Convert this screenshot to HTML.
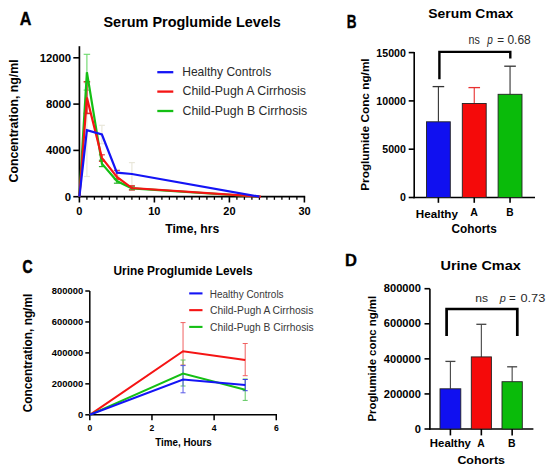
<!DOCTYPE html>
<html><head><meta charset="utf-8"><style>
html,body{margin:0;padding:0;background:#fff;}
body{width:550px;height:471px;overflow:hidden;}
svg{display:block;font-family:"Liberation Sans", sans-serif;}
</style></head><body>
<svg width="550" height="471" viewBox="0 0 550 471">
<rect width="550" height="471" fill="#fff"/>
<text transform="translate(19.87,25.10) scale(0.8985,1)" font-size="18.00" font-weight="bold" font-style="normal" fill="#000" stroke="#000" stroke-width="0.35">A</text>
<text transform="translate(103.48,26.60) scale(1.0324,1)" font-size="14.00" font-weight="bold" font-style="normal" fill="#000">Serum Proglumide Levels</text>
<line x1="79.40" y1="46.20" x2="79.40" y2="197.50" stroke="#000" stroke-width="1.7"/>
<line x1="78.60" y1="196.70" x2="305.20" y2="196.70" stroke="#000" stroke-width="1.7"/>
<line x1="73.30" y1="196.70" x2="79.40" y2="196.70" stroke="#000" stroke-width="1.6"/>
<text transform="translate(64.86,200.60) scale(1.0300,1)" font-size="11.00" font-weight="bold" font-style="normal" fill="#000">0</text>
<line x1="73.30" y1="150.40" x2="79.40" y2="150.40" stroke="#000" stroke-width="1.6"/>
<text transform="translate(45.96,154.30) scale(1.0300,1)" font-size="11.00" font-weight="bold" font-style="normal" fill="#000">4000</text>
<line x1="73.30" y1="104.10" x2="79.40" y2="104.10" stroke="#000" stroke-width="1.6"/>
<text transform="translate(45.96,108.00) scale(1.0300,1)" font-size="11.00" font-weight="bold" font-style="normal" fill="#000">8000</text>
<line x1="73.30" y1="57.80" x2="79.40" y2="57.80" stroke="#000" stroke-width="1.6"/>
<text transform="translate(39.66,61.70) scale(1.0300,1)" font-size="11.00" font-weight="bold" font-style="normal" fill="#000">12000</text>
<line x1="79.40" y1="196.70" x2="79.40" y2="202.50" stroke="#000" stroke-width="1.6"/>
<line x1="86.90" y1="196.70" x2="86.90" y2="199.80" stroke="#000" stroke-width="1.3"/>
<line x1="94.40" y1="196.70" x2="94.40" y2="199.80" stroke="#000" stroke-width="1.3"/>
<line x1="101.90" y1="196.70" x2="101.90" y2="199.80" stroke="#000" stroke-width="1.3"/>
<line x1="109.40" y1="196.70" x2="109.40" y2="199.80" stroke="#000" stroke-width="1.3"/>
<line x1="116.90" y1="196.70" x2="116.90" y2="199.80" stroke="#000" stroke-width="1.3"/>
<line x1="124.40" y1="196.70" x2="124.40" y2="199.80" stroke="#000" stroke-width="1.3"/>
<line x1="131.90" y1="196.70" x2="131.90" y2="199.80" stroke="#000" stroke-width="1.3"/>
<line x1="139.40" y1="196.70" x2="139.40" y2="199.80" stroke="#000" stroke-width="1.3"/>
<line x1="146.90" y1="196.70" x2="146.90" y2="199.80" stroke="#000" stroke-width="1.3"/>
<line x1="154.40" y1="196.70" x2="154.40" y2="202.50" stroke="#000" stroke-width="1.6"/>
<line x1="161.90" y1="196.70" x2="161.90" y2="199.80" stroke="#000" stroke-width="1.3"/>
<line x1="169.40" y1="196.70" x2="169.40" y2="199.80" stroke="#000" stroke-width="1.3"/>
<line x1="176.90" y1="196.70" x2="176.90" y2="199.80" stroke="#000" stroke-width="1.3"/>
<line x1="184.40" y1="196.70" x2="184.40" y2="199.80" stroke="#000" stroke-width="1.3"/>
<line x1="191.90" y1="196.70" x2="191.90" y2="199.80" stroke="#000" stroke-width="1.3"/>
<line x1="199.40" y1="196.70" x2="199.40" y2="199.80" stroke="#000" stroke-width="1.3"/>
<line x1="206.90" y1="196.70" x2="206.90" y2="199.80" stroke="#000" stroke-width="1.3"/>
<line x1="214.40" y1="196.70" x2="214.40" y2="199.80" stroke="#000" stroke-width="1.3"/>
<line x1="221.90" y1="196.70" x2="221.90" y2="199.80" stroke="#000" stroke-width="1.3"/>
<line x1="229.40" y1="196.70" x2="229.40" y2="202.50" stroke="#000" stroke-width="1.6"/>
<line x1="236.90" y1="196.70" x2="236.90" y2="199.80" stroke="#000" stroke-width="1.3"/>
<line x1="244.40" y1="196.70" x2="244.40" y2="199.80" stroke="#000" stroke-width="1.3"/>
<line x1="251.90" y1="196.70" x2="251.90" y2="199.80" stroke="#000" stroke-width="1.3"/>
<line x1="259.40" y1="196.70" x2="259.40" y2="199.80" stroke="#000" stroke-width="1.3"/>
<line x1="266.90" y1="196.70" x2="266.90" y2="199.80" stroke="#000" stroke-width="1.3"/>
<line x1="274.40" y1="196.70" x2="274.40" y2="199.80" stroke="#000" stroke-width="1.3"/>
<line x1="281.90" y1="196.70" x2="281.90" y2="199.80" stroke="#000" stroke-width="1.3"/>
<line x1="289.40" y1="196.70" x2="289.40" y2="199.80" stroke="#000" stroke-width="1.3"/>
<line x1="296.90" y1="196.70" x2="296.90" y2="199.80" stroke="#000" stroke-width="1.3"/>
<line x1="304.40" y1="196.70" x2="304.40" y2="202.50" stroke="#000" stroke-width="1.6"/>
<text transform="translate(76.35,215.30) scale(1.0000,1)" font-size="11.00" font-weight="bold" font-style="normal" fill="#000">0</text>
<text transform="translate(148.16,215.30) scale(1.0000,1)" font-size="11.00" font-weight="bold" font-style="normal" fill="#000">10</text>
<text transform="translate(223.32,215.30) scale(1.0000,1)" font-size="11.00" font-weight="bold" font-style="normal" fill="#000">20</text>
<text transform="translate(298.38,215.30) scale(1.0000,1)" font-size="11.00" font-weight="bold" font-style="normal" fill="#000">30</text>
<text transform="translate(165.26,232.50) scale(1.0000,1)" font-size="12.20" font-weight="bold" font-style="normal" fill="#000">Time, hrs</text>
<text transform="translate(17.90,182.51) rotate(-90) scale(1.0023,1)" font-size="12.30" font-weight="bold" font-style="normal" fill="#000">Concentration, ng/ml</text>
<line x1="86.90" y1="83.73" x2="86.90" y2="176.50" stroke="#e9e7da" stroke-width="1.2"/>
<line x1="83.90" y1="83.73" x2="89.90" y2="83.73" stroke="#e9e7da" stroke-width="1.2"/>
<line x1="83.90" y1="176.50" x2="89.90" y2="176.50" stroke="#e9e7da" stroke-width="1.2"/>
<line x1="101.90" y1="125.31" x2="101.90" y2="143.71" stroke="#e9e7da" stroke-width="1.2"/>
<line x1="98.90" y1="125.31" x2="104.90" y2="125.31" stroke="#e9e7da" stroke-width="1.2"/>
<line x1="98.90" y1="143.71" x2="104.90" y2="143.71" stroke="#e9e7da" stroke-width="1.2"/>
<line x1="116.90" y1="169.50" x2="116.90" y2="175.86" stroke="#e9e7da" stroke-width="1.2"/>
<line x1="113.90" y1="169.50" x2="119.90" y2="169.50" stroke="#e9e7da" stroke-width="1.2"/>
<line x1="113.90" y1="175.86" x2="119.90" y2="175.86" stroke="#e9e7da" stroke-width="1.2"/>
<line x1="131.90" y1="162.60" x2="131.90" y2="185.47" stroke="#e9e7da" stroke-width="1.2"/>
<line x1="128.90" y1="162.60" x2="134.90" y2="162.60" stroke="#e9e7da" stroke-width="1.2"/>
<line x1="128.90" y1="185.47" x2="134.90" y2="185.47" stroke="#e9e7da" stroke-width="1.2"/>
<line x1="86.90" y1="54.30" x2="86.90" y2="90.09" stroke="#6ad86a" stroke-width="1.1"/>
<line x1="83.65" y1="54.30" x2="90.15" y2="54.30" stroke="#6ad86a" stroke-width="1.1"/>
<line x1="83.65" y1="90.09" x2="90.15" y2="90.09" stroke="#6ad86a" stroke-width="1.1"/>
<line x1="101.90" y1="160.24" x2="101.90" y2="166.60" stroke="#30b030" stroke-width="1.2"/>
<line x1="98.90" y1="160.24" x2="104.90" y2="160.24" stroke="#30b030" stroke-width="1.2"/>
<line x1="98.90" y1="166.60" x2="104.90" y2="166.60" stroke="#30b030" stroke-width="1.2"/>
<line x1="116.90" y1="178.76" x2="116.90" y2="183.20" stroke="#30b030" stroke-width="1.2"/>
<line x1="113.90" y1="178.76" x2="119.90" y2="178.76" stroke="#30b030" stroke-width="1.2"/>
<line x1="113.90" y1="183.20" x2="119.90" y2="183.20" stroke="#30b030" stroke-width="1.2"/>
<line x1="131.90" y1="186.28" x2="131.90" y2="189.75" stroke="#30b030" stroke-width="1.2"/>
<line x1="128.90" y1="186.28" x2="134.90" y2="186.28" stroke="#30b030" stroke-width="1.2"/>
<line x1="128.90" y1="189.75" x2="134.90" y2="189.75" stroke="#30b030" stroke-width="1.2"/>
<line x1="86.90" y1="81.79" x2="86.90" y2="113.42" stroke="#d83030" stroke-width="1.6"/>
<line x1="83.65" y1="81.79" x2="90.15" y2="81.79" stroke="#d83030" stroke-width="1.6"/>
<line x1="83.65" y1="113.42" x2="90.15" y2="113.42" stroke="#d83030" stroke-width="1.6"/>
<line x1="101.90" y1="154.80" x2="101.90" y2="161.40" stroke="#e04040" stroke-width="1.2"/>
<line x1="98.90" y1="154.80" x2="104.90" y2="154.80" stroke="#e04040" stroke-width="1.2"/>
<line x1="98.90" y1="161.40" x2="104.90" y2="161.40" stroke="#e04040" stroke-width="1.2"/>
<line x1="116.90" y1="170.51" x2="116.90" y2="179.50" stroke="#e04040" stroke-width="1.2"/>
<line x1="113.90" y1="170.51" x2="119.90" y2="170.51" stroke="#e04040" stroke-width="1.2"/>
<line x1="113.90" y1="179.50" x2="119.90" y2="179.50" stroke="#e04040" stroke-width="1.2"/>
<line x1="131.90" y1="185.70" x2="131.90" y2="189.99" stroke="#e04040" stroke-width="1.2"/>
<line x1="128.90" y1="185.70" x2="134.90" y2="185.70" stroke="#e04040" stroke-width="1.2"/>
<line x1="128.90" y1="189.99" x2="134.90" y2="189.99" stroke="#e04040" stroke-width="1.2"/>
<polyline points="79.40,196.70 86.90,72.20 101.90,163.60 116.90,181.00 131.90,188.37 259.40,196.70" fill="none" stroke="#14bf14" stroke-width="2.2" stroke-linejoin="miter"/>
<polyline points="79.40,196.70 86.90,97.61 101.90,157.81 116.90,176.91 131.90,188.02 260.90,196.70" fill="none" stroke="#f51414" stroke-width="2.2" stroke-linejoin="miter"/>
<polyline points="79.40,196.70 86.90,130.10 101.90,134.51 116.90,172.71 131.90,174.01 259.40,196.70" fill="none" stroke="#1414f5" stroke-width="2.2" stroke-linejoin="miter"/>
<line x1="157.30" y1="72.20" x2="173.30" y2="72.20" stroke="#1414f5" stroke-width="2.3"/>
<text transform="translate(182.21,76.00) scale(0.9964,1)" font-size="12.10" font-weight="normal" font-style="normal" fill="#2a2a2a">Healthy Controls</text>
<line x1="157.30" y1="91.60" x2="173.30" y2="91.60" stroke="#f51414" stroke-width="2.3"/>
<text transform="translate(182.57,95.10) scale(1.0203,1)" font-size="12.10" font-weight="normal" font-style="normal" fill="#2a2a2a">Child-Pugh A Cirrhosis</text>
<line x1="157.30" y1="111.00" x2="173.30" y2="111.00" stroke="#14bf14" stroke-width="2.3"/>
<text transform="translate(182.57,115.00) scale(1.0195,1)" font-size="12.10" font-weight="normal" font-style="normal" fill="#2a2a2a">Child-Pugh B Cirrhosis</text>
<text transform="translate(346.77,28.20) scale(0.7600,1)" font-size="17.80" font-weight="bold" font-style="normal" fill="#000" stroke="#000" stroke-width="0.35">B</text>
<text transform="translate(428.30,17.60) scale(1.0287,1)" font-size="13.50" font-weight="bold" font-style="normal" fill="#000">Serum Cmax</text>
<line x1="414.20" y1="52.00" x2="414.20" y2="198.30" stroke="#000" stroke-width="1.6"/>
<line x1="413.40" y1="197.50" x2="535.00" y2="197.50" stroke="#000" stroke-width="1.6"/>
<line x1="408.70" y1="197.50" x2="414.20" y2="197.50" stroke="#000" stroke-width="1.6"/>
<text transform="translate(399.94,201.40) scale(1.0000,1)" font-size="10.60" font-weight="bold" font-style="normal" fill="#000">0</text>
<line x1="408.70" y1="149.20" x2="414.20" y2="149.20" stroke="#000" stroke-width="1.6"/>
<text transform="translate(382.25,153.10) scale(1.0000,1)" font-size="10.60" font-weight="bold" font-style="normal" fill="#000">5000</text>
<line x1="408.70" y1="100.90" x2="414.20" y2="100.90" stroke="#000" stroke-width="1.6"/>
<text transform="translate(376.36,104.80) scale(1.0000,1)" font-size="10.60" font-weight="bold" font-style="normal" fill="#000">10000</text>
<line x1="408.70" y1="52.60" x2="414.20" y2="52.60" stroke="#000" stroke-width="1.6"/>
<text transform="translate(376.36,56.50) scale(1.0000,1)" font-size="10.60" font-weight="bold" font-style="normal" fill="#000">15000</text>
<line x1="438.40" y1="86.60" x2="438.40" y2="121.80" stroke="#333" stroke-width="1.1"/>
<line x1="432.60" y1="86.60" x2="444.20" y2="86.60" stroke="#333" stroke-width="1.3"/>
<rect x="426.50" y="121.80" width="23.80" height="75.70" fill="#1010f0" stroke="#222" stroke-width="0.9"/>
<line x1="438.40" y1="197.50" x2="438.40" y2="202.80" stroke="#000" stroke-width="1.6"/>
<line x1="474.25" y1="87.60" x2="474.25" y2="103.50" stroke="#e83030" stroke-width="1.1"/>
<line x1="468.45" y1="87.60" x2="480.05" y2="87.60" stroke="#e83030" stroke-width="1.3"/>
<rect x="462.30" y="103.50" width="23.90" height="94.00" fill="#f50a0a" stroke="#222" stroke-width="0.9"/>
<line x1="474.25" y1="197.50" x2="474.25" y2="202.80" stroke="#000" stroke-width="1.6"/>
<line x1="510.05" y1="66.20" x2="510.05" y2="94.30" stroke="#333" stroke-width="1.1"/>
<line x1="504.25" y1="66.20" x2="515.85" y2="66.20" stroke="#333" stroke-width="1.3"/>
<rect x="498.10" y="94.30" width="23.90" height="103.20" fill="#0abb0a" stroke="#222" stroke-width="0.9"/>
<line x1="510.05" y1="197.50" x2="510.05" y2="202.80" stroke="#000" stroke-width="1.6"/>
<polyline points="439.40,79.30 439.40,51.90 510.30,51.90 510.30,58.50" fill="none" stroke="#000" stroke-width="2.4" stroke-linejoin="miter"/>
<text transform="translate(468.59,43.90) scale(0.8913,1)" font-size="12.00" font-weight="normal" font-style="normal" fill="#2a2a2a">ns</text>
<text transform="translate(487.15,43.90) scale(0.8351,1)" font-size="12.00" font-weight="normal" font-style="italic" fill="#2a2a2a">p</text>
<text transform="translate(497.23,43.90) scale(0.9777,1)" font-size="12.00" font-weight="normal" font-style="normal" fill="#2a2a2a">=</text>
<text transform="translate(507.43,43.90) scale(0.9971,1)" font-size="12.00" font-weight="normal" font-style="normal" fill="#2a2a2a">0.68</text>
<text transform="translate(415.82,217.60) scale(1.0324,1)" font-size="11.30" font-weight="bold" font-style="normal" fill="#000">Healthy</text>
<text transform="translate(470.24,215.70) scale(1.0079,1)" font-size="10.50" font-weight="bold" font-style="normal" fill="#000">A</text>
<text transform="translate(506.22,215.70) scale(0.9682,1)" font-size="10.50" font-weight="bold" font-style="normal" fill="#000">B</text>
<text transform="translate(451.52,233.30) scale(0.9842,1)" font-size="12.00" font-weight="bold" font-style="normal" fill="#000">Cohorts</text>
<text transform="translate(369.10,190.79) rotate(-90) scale(1.0007,1)" font-size="11.80" font-weight="bold" font-style="normal" fill="#000">Proglumide Conc ng/ml</text>
<text transform="translate(22.53,273.40) scale(0.7732,1)" font-size="18.00" font-weight="bold" font-style="normal" fill="#000" stroke="#000" stroke-width="0.6">C</text>
<text transform="translate(113.49,274.80) scale(0.9976,1)" font-size="11.90" font-weight="bold" font-style="normal" fill="#000">Urine Proglumide Levels</text>
<line x1="89.80" y1="291.10" x2="89.80" y2="415.50" stroke="#000" stroke-width="1.5"/>
<line x1="89.10" y1="414.80" x2="277.00" y2="414.80" stroke="#000" stroke-width="1.5"/>
<line x1="85.30" y1="414.80" x2="89.80" y2="414.80" stroke="#000" stroke-width="1.5"/>
<text transform="translate(77.96,418.20) scale(1.0000,1)" font-size="9.40" font-weight="bold" font-style="normal" fill="#000">0</text>
<line x1="85.30" y1="383.85" x2="89.80" y2="383.85" stroke="#000" stroke-width="1.5"/>
<text transform="translate(51.82,387.25) scale(1.0000,1)" font-size="9.40" font-weight="bold" font-style="normal" fill="#000">200000</text>
<line x1="85.30" y1="352.90" x2="89.80" y2="352.90" stroke="#000" stroke-width="1.5"/>
<text transform="translate(51.82,356.30) scale(1.0000,1)" font-size="9.40" font-weight="bold" font-style="normal" fill="#000">400000</text>
<line x1="85.30" y1="321.95" x2="89.80" y2="321.95" stroke="#000" stroke-width="1.5"/>
<text transform="translate(51.82,325.35) scale(1.0000,1)" font-size="9.40" font-weight="bold" font-style="normal" fill="#000">600000</text>
<line x1="85.30" y1="291.00" x2="89.80" y2="291.00" stroke="#000" stroke-width="1.5"/>
<text transform="translate(51.82,294.40) scale(1.0000,1)" font-size="9.40" font-weight="bold" font-style="normal" fill="#000">800000</text>
<line x1="89.80" y1="414.80" x2="89.80" y2="420.30" stroke="#000" stroke-width="1.5"/>
<text transform="translate(87.41,430.80) scale(1.0000,1)" font-size="8.60" font-weight="bold" font-style="normal" fill="#000">0</text>
<line x1="151.96" y1="414.80" x2="151.96" y2="420.30" stroke="#000" stroke-width="1.5"/>
<text transform="translate(149.59,430.80) scale(1.0000,1)" font-size="8.60" font-weight="bold" font-style="normal" fill="#000">2</text>
<line x1="214.12" y1="414.80" x2="214.12" y2="420.30" stroke="#000" stroke-width="1.5"/>
<text transform="translate(211.69,430.80) scale(1.0000,1)" font-size="8.60" font-weight="bold" font-style="normal" fill="#000">4</text>
<line x1="276.28" y1="414.80" x2="276.28" y2="420.30" stroke="#000" stroke-width="1.5"/>
<text transform="translate(273.89,430.80) scale(1.0000,1)" font-size="8.60" font-weight="bold" font-style="normal" fill="#000">6</text>
<text transform="translate(155.29,445.60) scale(0.9639,1)" font-size="10.20" font-weight="bold" font-style="normal" fill="#000">Time, Hours</text>
<text transform="translate(32.00,412.29) rotate(-90) scale(0.9886,1)" font-size="12.00" font-weight="bold" font-style="normal" fill="#000">Concentration, ng/ml</text>
<line x1="183.04" y1="322.60" x2="183.04" y2="365.00" stroke="#f06060" stroke-width="1.0"/>
<line x1="180.54" y1="322.60" x2="185.54" y2="322.60" stroke="#f06060" stroke-width="1.0"/>
<line x1="180.54" y1="365.00" x2="185.54" y2="365.00" stroke="#f06060" stroke-width="1.0"/>
<line x1="245.20" y1="343.50" x2="245.20" y2="375.70" stroke="#f06060" stroke-width="1.0"/>
<line x1="242.70" y1="343.50" x2="247.70" y2="343.50" stroke="#f06060" stroke-width="1.0"/>
<line x1="242.70" y1="375.70" x2="247.70" y2="375.70" stroke="#f06060" stroke-width="1.0"/>
<line x1="183.04" y1="360.00" x2="183.04" y2="386.00" stroke="#60c860" stroke-width="1.0"/>
<line x1="180.54" y1="360.00" x2="185.54" y2="360.00" stroke="#60c860" stroke-width="1.0"/>
<line x1="180.54" y1="386.00" x2="185.54" y2="386.00" stroke="#60c860" stroke-width="1.0"/>
<line x1="245.20" y1="379.00" x2="245.20" y2="400.40" stroke="#60c860" stroke-width="1.0"/>
<line x1="242.70" y1="379.00" x2="247.70" y2="379.00" stroke="#60c860" stroke-width="1.0"/>
<line x1="242.70" y1="400.40" x2="247.70" y2="400.40" stroke="#60c860" stroke-width="1.0"/>
<line x1="183.04" y1="365.60" x2="183.04" y2="392.80" stroke="#5a5ae8" stroke-width="1.0"/>
<line x1="180.54" y1="365.60" x2="185.54" y2="365.60" stroke="#5a5ae8" stroke-width="1.0"/>
<line x1="180.54" y1="392.80" x2="185.54" y2="392.80" stroke="#5a5ae8" stroke-width="1.0"/>
<line x1="245.20" y1="379.50" x2="245.20" y2="390.70" stroke="#3a3ae8" stroke-width="1.0"/>
<line x1="242.70" y1="379.50" x2="247.70" y2="379.50" stroke="#3a3ae8" stroke-width="1.0"/>
<line x1="242.70" y1="390.70" x2="247.70" y2="390.70" stroke="#3a3ae8" stroke-width="1.0"/>
<polyline points="89.80,414.80 183.04,351.20 245.20,360.00" fill="none" stroke="#f51414" stroke-width="2.0" stroke-linejoin="miter"/>
<polyline points="89.80,414.80 183.04,373.60 245.20,389.70" fill="none" stroke="#14bf14" stroke-width="2.0" stroke-linejoin="miter"/>
<polyline points="89.80,414.80 183.04,379.50 245.20,385.10" fill="none" stroke="#1414f5" stroke-width="2.0" stroke-linejoin="miter"/>
<line x1="189.20" y1="293.40" x2="202.50" y2="293.40" stroke="#1414f5" stroke-width="2.1"/>
<text transform="translate(209.78,297.60) scale(0.9086,1)" font-size="11.00" font-weight="normal" font-style="normal" fill="#383838">Healthy Controls</text>
<line x1="189.20" y1="310.15" x2="202.50" y2="310.15" stroke="#f51414" stroke-width="2.1"/>
<text transform="translate(210.08,314.00) scale(0.9392,1)" font-size="11.00" font-weight="normal" font-style="normal" fill="#383838">Child-Pugh A Cirrhosis</text>
<line x1="189.20" y1="326.90" x2="202.50" y2="326.90" stroke="#14bf14" stroke-width="2.1"/>
<text transform="translate(210.08,330.60) scale(0.9320,1)" font-size="11.00" font-weight="normal" font-style="normal" fill="#383838">Child-Pugh B Cirrhosis</text>
<text transform="translate(345.07,266.40) scale(0.9512,1)" font-size="17.40" font-weight="bold" font-style="normal" fill="#000" stroke="#000" stroke-width="0.35">D</text>
<text transform="translate(440.53,269.80) scale(1.1373,1)" font-size="12.70" font-weight="bold" font-style="normal" fill="#000">Urine Cmax</text>
<line x1="429.90" y1="288.70" x2="429.90" y2="429.80" stroke="#000" stroke-width="1.6"/>
<line x1="429.10" y1="429.00" x2="533.40" y2="429.00" stroke="#000" stroke-width="1.6"/>
<line x1="424.50" y1="429.00" x2="429.90" y2="429.00" stroke="#000" stroke-width="1.6"/>
<text transform="translate(414.77,432.70) scale(1.0800,1)" font-size="10.30" font-weight="bold" font-style="normal" fill="#000">0</text>
<line x1="424.50" y1="393.93" x2="429.90" y2="393.93" stroke="#000" stroke-width="1.6"/>
<text transform="translate(383.84,397.62) scale(1.0800,1)" font-size="10.30" font-weight="bold" font-style="normal" fill="#000">200000</text>
<line x1="424.50" y1="358.85" x2="429.90" y2="358.85" stroke="#000" stroke-width="1.6"/>
<text transform="translate(383.84,362.55) scale(1.0800,1)" font-size="10.30" font-weight="bold" font-style="normal" fill="#000">400000</text>
<line x1="424.50" y1="323.77" x2="429.90" y2="323.77" stroke="#000" stroke-width="1.6"/>
<text transform="translate(383.84,327.47) scale(1.0800,1)" font-size="10.30" font-weight="bold" font-style="normal" fill="#000">600000</text>
<line x1="424.50" y1="288.70" x2="429.90" y2="288.70" stroke="#000" stroke-width="1.6"/>
<text transform="translate(383.84,292.40) scale(1.0800,1)" font-size="10.30" font-weight="bold" font-style="normal" fill="#000">800000</text>
<line x1="450.40" y1="361.40" x2="450.40" y2="388.80" stroke="#444" stroke-width="1.1"/>
<line x1="445.40" y1="361.40" x2="455.40" y2="361.40" stroke="#444" stroke-width="1.3"/>
<rect x="440.00" y="388.80" width="20.80" height="40.20" fill="#1010f0" stroke="#222" stroke-width="0.9"/>
<line x1="450.40" y1="429.00" x2="450.40" y2="435.40" stroke="#000" stroke-width="1.6"/>
<line x1="481.35" y1="324.30" x2="481.35" y2="356.90" stroke="#444" stroke-width="1.1"/>
<line x1="476.35" y1="324.30" x2="486.35" y2="324.30" stroke="#444" stroke-width="1.3"/>
<rect x="471.30" y="356.90" width="20.10" height="72.10" fill="#f50a0a" stroke="#222" stroke-width="0.9"/>
<line x1="481.35" y1="429.00" x2="481.35" y2="435.40" stroke="#000" stroke-width="1.6"/>
<line x1="512.15" y1="366.80" x2="512.15" y2="381.70" stroke="#444" stroke-width="1.1"/>
<line x1="507.15" y1="366.80" x2="517.15" y2="366.80" stroke="#444" stroke-width="1.3"/>
<rect x="502.00" y="381.70" width="20.30" height="47.30" fill="#0abb0a" stroke="#222" stroke-width="0.9"/>
<line x1="512.15" y1="429.00" x2="512.15" y2="435.40" stroke="#000" stroke-width="1.6"/>
<polyline points="446.60,336.10 446.60,309.00 517.30,309.00 517.30,336.10" fill="none" stroke="#000" stroke-width="2.7" stroke-linejoin="miter"/>
<text transform="translate(475.29,301.90) scale(1.0309,1)" font-size="11.80" font-weight="normal" font-style="normal" fill="#2a2a2a">ns</text>
<text transform="translate(499.77,301.90) scale(0.9265,1)" font-size="11.80" font-weight="normal" font-style="italic" fill="#2a2a2a">p</text>
<text transform="translate(508.94,301.90) scale(0.9768,1)" font-size="11.80" font-weight="normal" font-style="normal" fill="#2a2a2a">=</text>
<text transform="translate(520.40,301.90) scale(1.0825,1)" font-size="11.80" font-weight="normal" font-style="normal" fill="#2a2a2a">0.73</text>
<text transform="translate(429.84,446.70) scale(1.1161,1)" font-size="10.20" font-weight="bold" font-style="normal" fill="#000">Healthy</text>
<text transform="translate(477.34,446.60) scale(1.0083,1)" font-size="10.20" font-weight="bold" font-style="normal" fill="#000">A</text>
<text transform="translate(508.00,446.60) scale(1.0288,1)" font-size="10.20" font-weight="bold" font-style="normal" fill="#000">B</text>
<text transform="translate(457.39,463.60) scale(1.0898,1)" font-size="11.40" font-weight="bold" font-style="normal" fill="#000">Cohorts</text>
<text transform="translate(376.10,421.56) rotate(-90) scale(0.9986,1)" font-size="11.40" font-weight="bold" font-style="normal" fill="#000">Proglumide conc ng/ml</text>
</svg>
</body></html>
